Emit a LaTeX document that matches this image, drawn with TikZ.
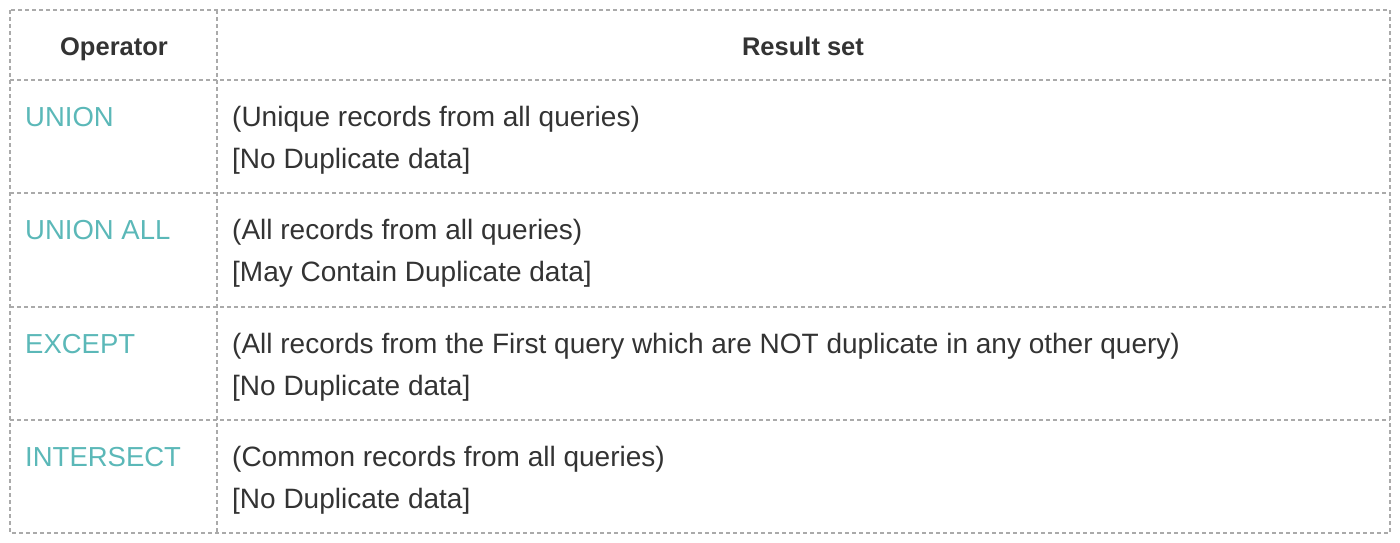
\documentclass[tikz,border=0pt]{standalone}
\usepackage{fontspec}
\setmainfont{Liberation Sans}
\definecolor{optext}{HTML}{5BB8B8}
\definecolor{bodytext}{HTML}{333333}
\definecolor{gridline}{HTML}{AAAAAA}
\tikzset{
  grid line/.style={draw=gridline, line width=1.2pt, dash pattern=on 4pt off 3pt},
  head/.style={anchor=base, font=\fontsize{25.5}{30}\selectfont\bfseries, text=bodytext, inner sep=0pt},
  op/.style={anchor=base west, font=\fontsize{27.5}{32}\selectfont, text=optext, inner sep=0pt},
  res/.style={anchor=base west, font=\fontsize{28}{32}\selectfont, text=bodytext, inner sep=0pt}
}
\begin{document}
\begin{tikzpicture}[x=1pt, y=-1pt]
    \useasboundingbox (0,0) rectangle (1400,543);
    % frame and rules
    \draw [grid line] (10,10) rectangle (1390,533);
    \draw [grid line] (217,10) -- (217,533);
    \foreach \y in {80,193,307,420}
        \draw [grid line] (10,\y) -- (1390,\y);
    % header
    \node [head] (hop) at (114,56) {Operator};
    \node [head] (hres) at (803,56) {Result set};
    % rows
    \node [op] (union) at (25,126) {UNION};
    \node [res] (union1) at (232,126) {(Unique records from all queries)};
    \node [res] (union2) at (232,168) {[No Duplicate data]};
    \node [op] (unionall) at (25,239) {UNION ALL};
    \node [res] (unionall1) at (232,239) {(All records from all queries)};
    \node [res] (unionall2) at (232,281) {[May Contain Duplicate data]};
    \node [op] (except) at (25,353) {EXCEPT};
    \node [res] (except1) at (232,353) {(All records from the First query which are NOT duplicate in any other query)};
    \node [res] (except2) at (232,395) {[No Duplicate data]};
    \node [op] (intersect) at (25,466) {INTERSECT};
    \node [res] (intersect1) at (232,466) {(Common records from all queries)};
    \node [res] (intersect2) at (232,508) {[No Duplicate data]};
\end{tikzpicture}
\end{document}
